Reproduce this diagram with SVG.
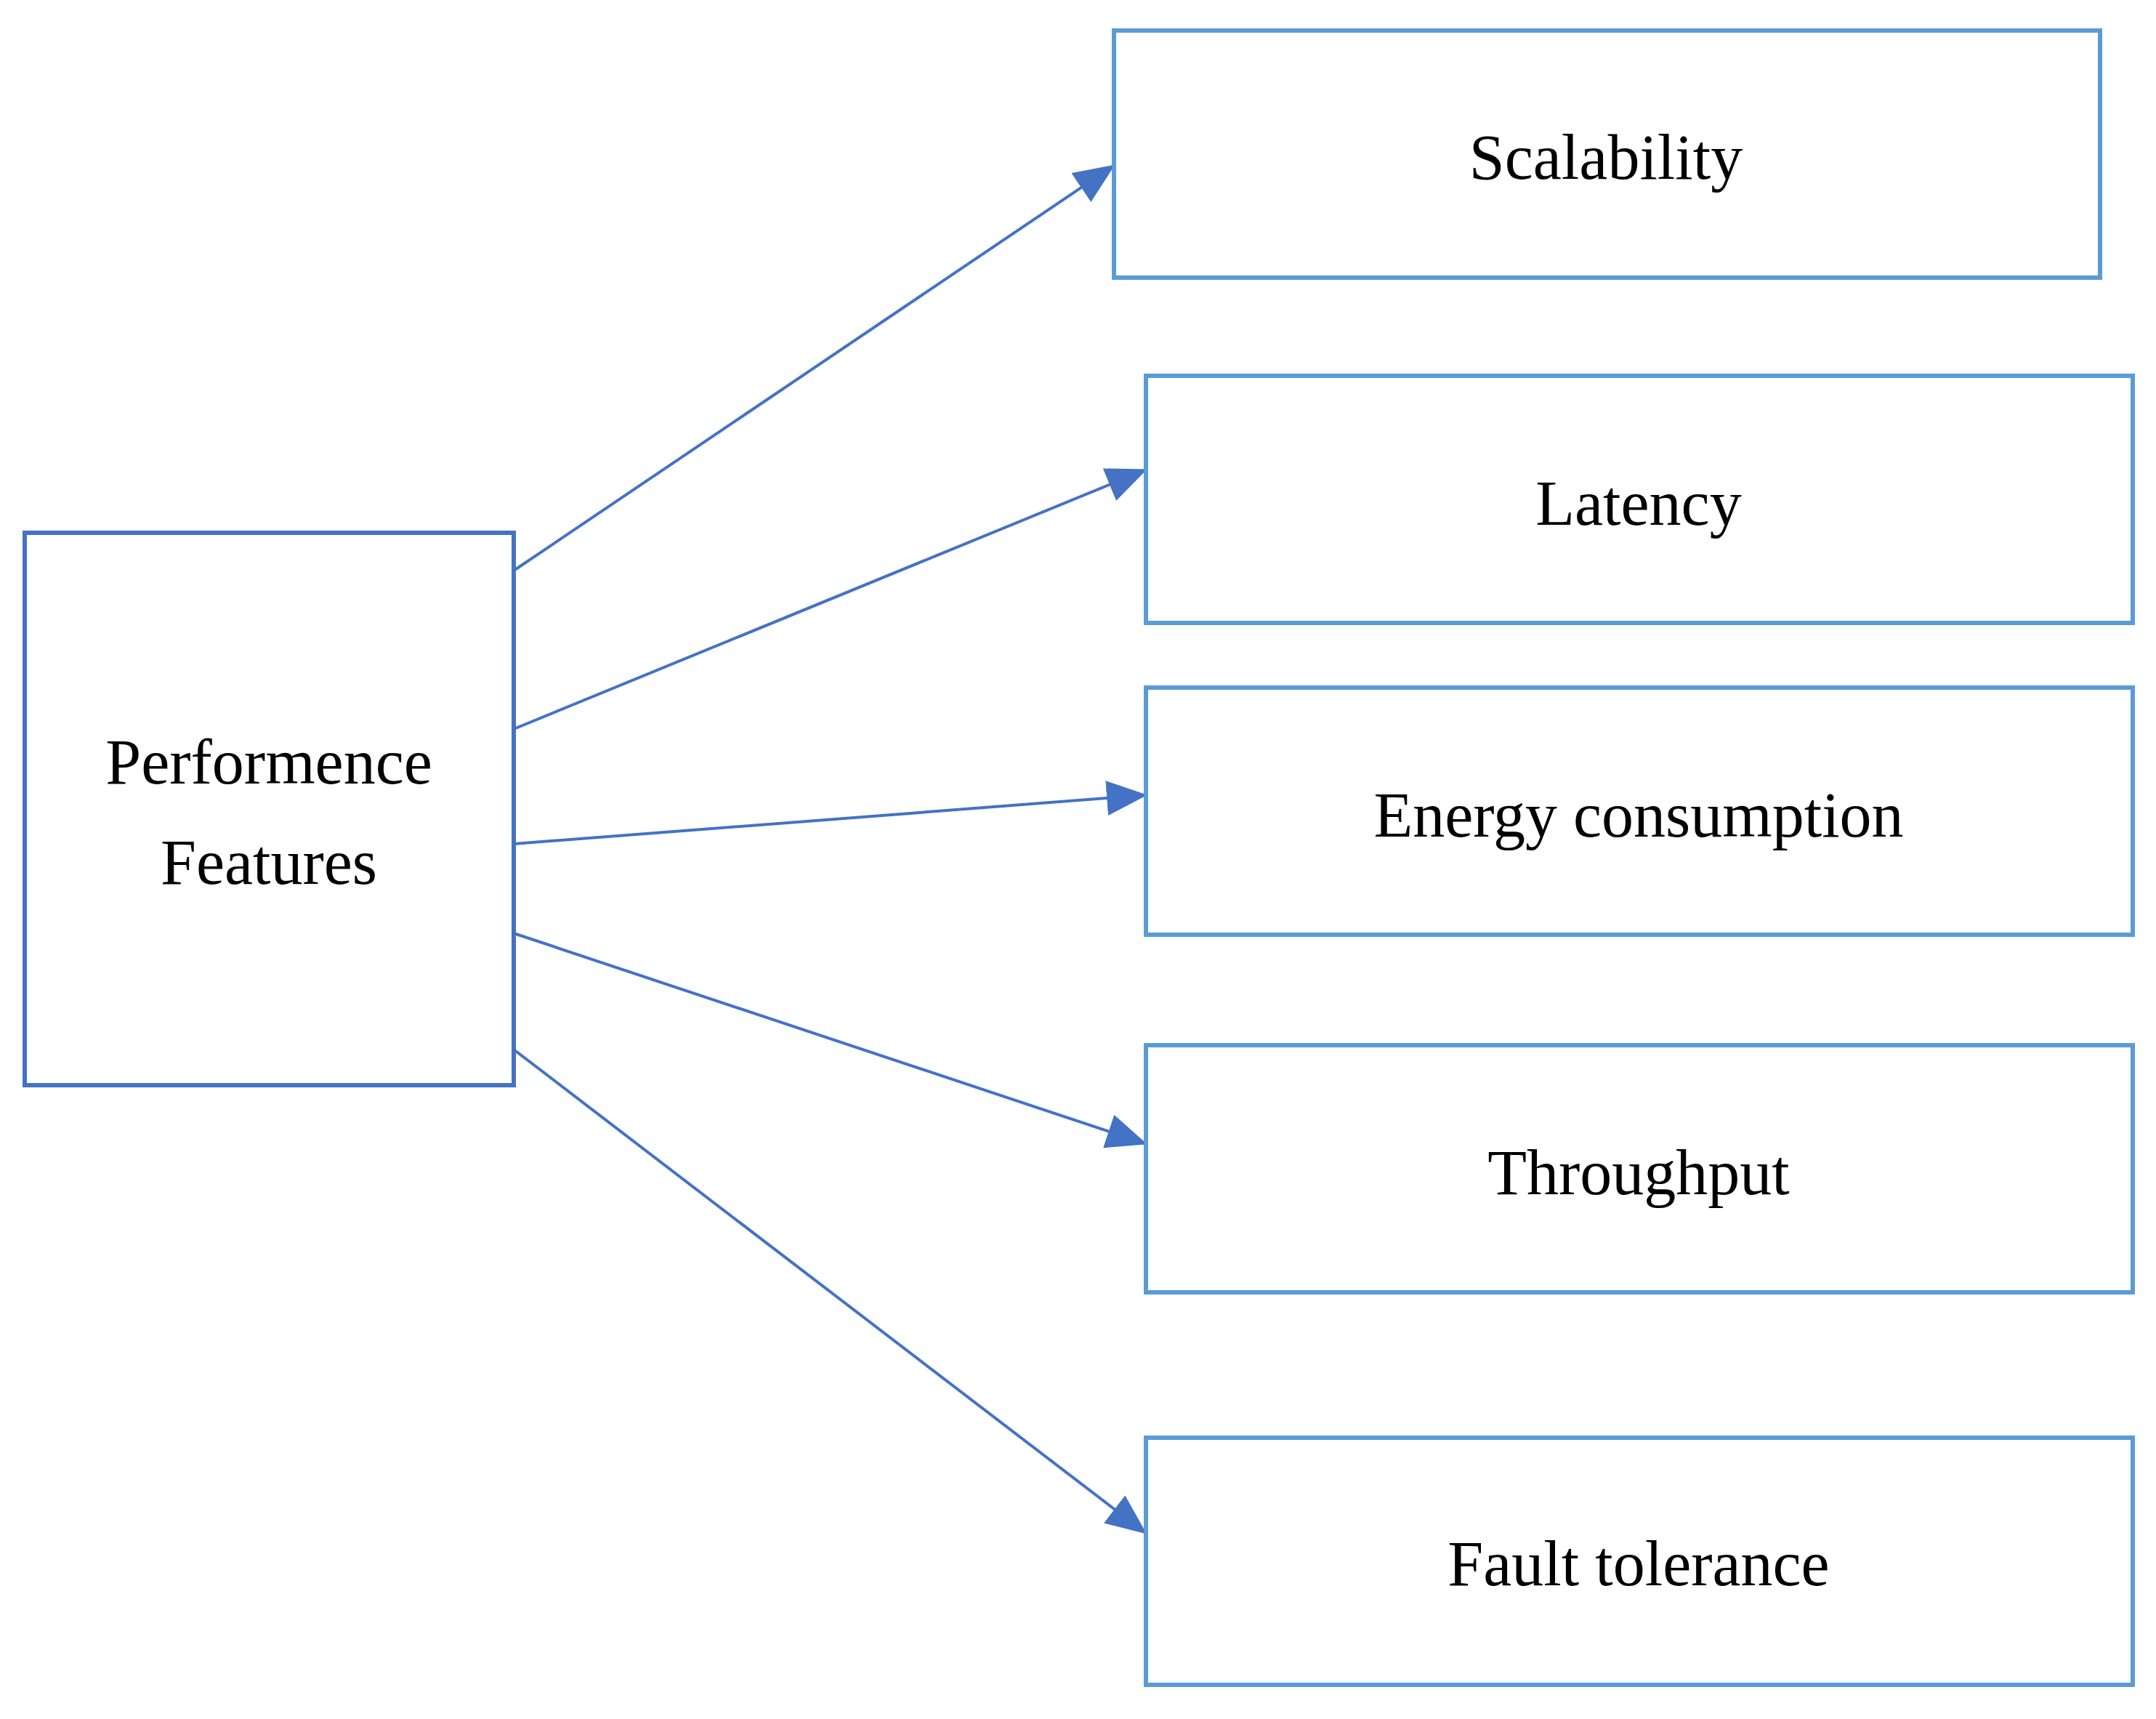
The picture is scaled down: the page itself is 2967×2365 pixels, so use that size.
<svg xmlns="http://www.w3.org/2000/svg" width="2967" height="2365" viewBox="0 0 2967 2365">
<style>
.box{fill:#fff;stroke:#5B9BD5;stroke-width:6}
.main{fill:#fff;stroke:#4472C4;stroke-width:6}
.t{font-family:"Liberation Serif","DejaVu Serif",serif;font-size:88px;fill:#000;text-anchor:middle}
.c{stroke:#4472C4;stroke-width:4;fill:none;marker-end:url(#a)}
</style>
<defs><marker id="a" markerWidth="14" markerHeight="12" refX="13" refY="6" orient="auto" markerUnits="strokeWidth"><path d="M0,0 L14,6 L0,12 z" fill="#4472C4"/></marker></defs>
<rect width="2967" height="2365" fill="#fff"/>
<g id="connectors">
<line class="c" x1="707" y1="785" x2="1531" y2="229"/>
<line class="c" x1="707" y1="1003" x2="1575" y2="647"/>
<line class="c" x1="707" y1="1161" x2="1575" y2="1094"/>
<line class="c" x1="707" y1="1284" x2="1575" y2="1573"/>
<line class="c" x1="707" y1="1444" x2="1575" y2="2108"/>
</g>
<g id="performance"><rect class="main" x="34" y="733" width="673" height="760"/><text class="t" x="370" y="1078">Performence</text><text class="t" x="370" y="1216">Features</text></g>
<g id="scalability"><rect class="box" x="1533" y="42" width="1357" height="340"/><text class="t" x="2210" y="246">Scalability</text></g>
<g id="latency"><rect class="box" x="1577" y="517" width="1358" height="340"/><text class="t" x="2255" y="722">Latency</text></g>
<g id="energy"><rect class="box" x="1577" y="946" width="1358" height="340"/><text class="t" x="2255" y="1151">Energy consumption</text></g>
<g id="throughput"><rect class="box" x="1577" y="1438" width="1358" height="340"/><text class="t" x="2255" y="1643">Throughput</text></g>
<g id="fault"><rect class="box" x="1577" y="1978" width="1358" height="340"/><text class="t" x="2255" y="2181">Fault tolerance</text></g>
</svg>
